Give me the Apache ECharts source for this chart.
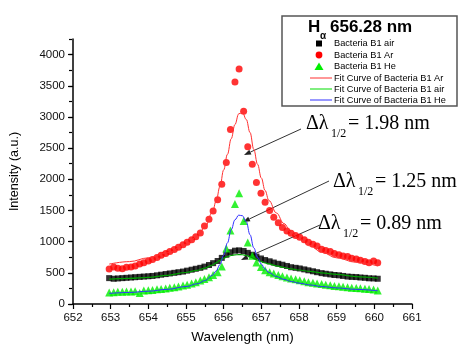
<!DOCTYPE html>
<html>
<head>
<meta charset="utf-8">
<script src="https://cdn.jsdelivr.net/npm/echarts@6/dist/echarts.min.js"></script>
<style>
  html, body { margin: 0; padding: 0; background: #fff; }
  #main { width: 474px; height: 353px; }
</style>
</head>
<body>
<div id="main"></div>
<script>
// measured points (nm)
const wavelength = [
  652.96, 653.08, 653.19, 653.31, 653.42, 653.54, 653.65, 653.77, 653.88,
  654.00, 654.11, 654.23, 654.34, 654.46, 654.57, 654.69, 654.80, 654.92,
  655.03, 655.15, 655.26, 655.38, 655.49, 655.61, 655.72, 655.84, 655.95,
  656.07, 656.18, 656.30, 656.41, 656.53, 656.64, 656.76, 656.87, 656.99,
  657.10, 657.22, 657.33, 657.45, 657.56, 657.68, 657.79, 657.91, 658.02,
  658.14, 658.25, 658.37, 658.48, 658.60, 658.71, 658.83, 658.94, 659.06,
  659.17, 659.29, 659.40, 659.52, 659.63, 659.75, 659.86, 659.98, 660.09
];
const airData = [
  415, 405, 410, 415, 420, 425, 430, 435, 440,
  445, 450, 460, 470, 480, 490, 500, 510, 520,
  535, 550, 565, 580, 600, 625, 655, 690, 740,
  790, 830, 855, 860, 850, 820, 790, 760, 730,
  705, 685, 665, 645, 630, 610, 590, 580, 570,
  555, 540, 525, 510, 495, 485, 475, 465, 460,
  450, 440, 435, 432, 425, 420, 412, 410, 405
];
const arData = [
  560, 592, 575, 565, 590, 595, 610, 640, 660,
  690, 715, 745, 780, 810, 840, 875, 910, 950,
  990, 1030, 1080, 1140, 1250, 1360, 1490, 1670, 1920,
  2270, 2800, 3560, 3770, 3090, 2520, 2240, 1950, 1775,
  1630, 1500, 1390, 1305, 1225, 1170, 1135, 1100, 1070,
  1030, 990, 960, 930, 880, 860, 840, 810, 790,
  770, 760, 735, 720, 700, 680, 660, 690, 660
];
const heData = [
  185, 190, 195, 195, 200, 200, 205, 175, 215,
  220, 225, 235, 240, 250, 260, 270, 280, 295,
  310, 330, 350, 375, 400, 430, 465, 510, 600,
  890, 1180, 1605, 1776, 1330, 986, 773, 666, 592,
  540, 510, 490, 465, 445, 425, 410, 395, 380,
  365, 350, 340, 330, 320, 310, 300, 290, 285,
  275, 270, 262, 258, 252, 245, 240, 232, 215
];

// fit curves
const fitX = [
  652.96, 653.5, 654.0, 654.5, 655.0, 655.3, 655.5, 655.7, 655.8, 655.9, 656.0,
  656.1, 656.2, 656.3, 656.4, 656.5, 656.6, 656.7, 656.8, 656.9, 657.0, 657.1,
  657.2, 657.4, 657.6, 657.8, 658.0, 658.3, 658.6, 659.0, 659.5, 660.09
];
const fitAr = [
  640, 680, 740, 820, 950, 1080, 1230, 1470, 1650, 1880, 2150,
  2400, 2650, 2880, 3050, 3070, 2960, 2750, 2480, 2240, 2020, 1820,
  1660, 1460, 1290, 1140, 1040, 930, 830, 740, 670, 610
];
const fitAir = [
  400, 412, 428, 460, 505, 540, 575, 625, 660, 700, 735,
  760, 778, 788, 792, 790, 778, 758, 732, 705, 680, 660,
  642, 612, 585, 562, 545, 522, 500, 476, 440, 415
];
const fitHe = [
  170, 185, 205, 235, 280, 325, 375, 460, 530, 630, 780,
  980, 1190, 1350, 1425, 1415, 1320, 1110, 900, 750, 640, 560,
  505, 440, 395, 360, 335, 305, 280, 258, 235, 212
];

const yTicks = [0, 500, 1000, 1500, 2000, 2500, 3000, 3500, 4000];

const legendItems = [
  'Bacteria B1 air', 'Bacteria B1 Ar', 'Bacteria B1 He',
  'Fit Curve of Bacteria B1 Ar', 'Fit Curve of Bacteria B1 air', 'Fit Curve of Bacteria B1 He'
];

const sans = '"Liberation Sans", Arial, sans-serif';
const serif = '"Liberation Serif", "Times New Roman", serif';

function pairs(xs, ys) {
  return xs.map(function (x, i) { return [x, ys[i]]; });
}

function arrow(x1, y1, x2, y2) {
  var dx = x2 - x1, dy = y2 - y1, len = Math.hypot(dx, dy);
  var ux = dx / len, uy = dy / len, hl = 7, hw = 2.6;
  var bx = x2 - ux * hl, by = y2 - uy * hl;
  return [
    { type: 'line', shape: { x1: x1, y1: y1, x2: bx, y2: by }, style: { stroke: '#333', lineWidth: 1 } },
    { type: 'polygon', shape: { points: [[x2, y2], [bx - uy * hw, by + ux * hw], [bx + uy * hw, by - ux * hw]] }, style: { fill: '#222' } }
  ];
}

function label(x, y, value) {
  return [
    { type: 'text', x: x, y: y, style: { text: 'Δλ', font: '20px ' + serif, fill: '#000', verticalAlign: 'middle' } },
    { type: 'text', x: x + 25, y: y + 10, style: { text: '1/2', font: '12px ' + serif, fill: '#000', verticalAlign: 'middle' } },
    { type: 'text', x: x + 42, y: y, style: { text: '= ' + value + ' nm', font: '20px ' + serif, fill: '#000', verticalAlign: 'middle' } }
  ];
}

var graphics = [];
// legend box
graphics.push({ type: 'rect', shape: { x: 282, y: 16, width: 175, height: 90 }, style: { fill: '#fff', stroke: '#555', lineWidth: 1.5 }, z: 10 });
graphics.push({ type: 'text', x: 308, y: 27, z: 11, style: { text: 'H', font: 'bold 17px ' + sans, fill: '#000', verticalAlign: 'middle' } });
graphics.push({ type: 'text', x: 320, y: 36, z: 11, style: { text: 'α', font: 'bold 10px ' + sans, fill: '#000', verticalAlign: 'middle' } });
graphics.push({ type: 'text', x: 330, y: 27, z: 11, style: { text: '656.28 nm', font: 'bold 17px ' + sans, fill: '#000', verticalAlign: 'middle' } });
var rowY = [43.5, 55, 66.5, 78, 89, 100];
graphics.push({ type: 'rect', z: 11, shape: { x: 316, y: rowY[0] - 3, width: 6, height: 6 }, style: { fill: '#000' } });
graphics.push({ type: 'circle', z: 11, shape: { cx: 319, cy: rowY[1], r: 3.4 }, style: { fill: '#ff0000' } });
graphics.push({ type: 'polygon', z: 11, shape: { points: [[319, rowY[2] - 4], [323.5, rowY[2] + 3.5], [314.5, rowY[2] + 3.5]] }, style: { fill: '#00ee00' } });
graphics.push({ type: 'line', z: 11, shape: { x1: 310, y1: rowY[3], x2: 332, y2: rowY[3] }, style: { stroke: '#ff3030', lineWidth: 1 } });
graphics.push({ type: 'line', z: 11, shape: { x1: 310, y1: rowY[4], x2: 332, y2: rowY[4] }, style: { stroke: '#00dd00', lineWidth: 1 } });
graphics.push({ type: 'line', z: 11, shape: { x1: 310, y1: rowY[5], x2: 332, y2: rowY[5] }, style: { stroke: '#3030ff', lineWidth: 1 } });
legendItems.forEach(function (t, i) {
  graphics.push({ type: 'text', z: 11, x: 334, y: rowY[i], style: { text: t, font: '9.2px ' + sans, fill: '#000', verticalAlign: 'middle' } });
});
// annotations
graphics = graphics.concat(
  label(306, 124, '1.98'), arrow(301, 129, 244, 155),
  label(333, 182, '1.25'), arrow(329, 181, 243, 222),
  label(318, 224, '0.89'), arrow(320, 225, 241, 260)
);

const chart = echarts.init(document.getElementById('main'));

var gridBox = { left: 72, right: 62, top: 39, bottom: 49 };

chart.setOption({
  backgroundColor: '#ffffff',
  animation: false,
  grid: [gridBox, gridBox],
  xAxis: [{
    type: 'value', min: 652, max: 661, interval: 1, gridIndex: 0,
    name: 'Wavelength (nm)', nameLocation: 'middle', nameGap: 26,
    nameTextStyle: { fontFamily: sans, fontSize: 13.5, color: '#000' },
    axisLine: { lineStyle: { color: '#000', width: 1.5 } },
    axisTick: { length: 5, lineStyle: { color: '#000', width: 1.2 } },
    minorTick: { show: true, splitNumber: 2, length: 3, lineStyle: { color: '#000', width: 1.2 } },
    axisLabel: { fontFamily: sans, fontSize: 11.5, color: '#111', margin: 8 },
    splitLine: { show: false }
  }, {
    type: 'value', min: 652, max: 661, gridIndex: 1, show: false
  }],
  yAxis: [{
    type: 'value', min: 0, max: 4250, interval: 500, gridIndex: 0,
    name: 'Intensity (a.u.)', nameLocation: 'middle', nameGap: 52,
    nameTextStyle: { fontFamily: sans, fontSize: 12.5, color: '#000' },
    axisLine: { show: true, lineStyle: { color: '#000', width: 1.5 } },
    axisTick: { show: true, length: 5, customValues: yTicks, lineStyle: { color: '#000', width: 1.2 } },
    axisLabel: {
      fontFamily: sans, fontSize: 11.5, color: '#111', margin: 8, customValues: yTicks,
      formatter: function (v) { return String(v); }
    },
    splitLine: { show: false }
  }, {
    // short ticks every 250
    type: 'value', min: 0, max: 4250, interval: 250, gridIndex: 1, position: 'left',
    axisLine: { show: false },
    axisTick: { show: true, length: 3, lineStyle: { color: '#000', width: 1.2 } },
    axisLabel: { show: false },
    splitLine: { show: false }
  }],
  series: [
    { name: 'Bacteria B1 air', type: 'scatter', symbol: 'rect', symbolSize: 6,
      itemStyle: { color: '#000' }, data: pairs(wavelength, airData) },
    { name: 'Bacteria B1 Ar', type: 'scatter', symbol: 'circle', symbolSize: 7,
      itemStyle: { color: '#ff0000' }, data: pairs(wavelength, arData) },
    { name: 'Bacteria B1 He', type: 'scatter', symbol: 'triangle', symbolSize: 8,
      itemStyle: { color: '#00ee00' }, data: pairs(wavelength, heData) },
    { name: 'Fit Curve of Bacteria B1 Ar', type: 'line', showSymbol: false, smooth: 0.4, smoothMonotone: 'x',
      lineStyle: { color: '#ff3030', width: 1 }, data: pairs(fitX, fitAr) },
    { name: 'Fit Curve of Bacteria B1 air', type: 'line', showSymbol: false, smooth: 0.4, smoothMonotone: 'x',
      lineStyle: { color: '#00a000', width: 1.2 }, data: pairs(fitX, fitAir) },
    { name: 'Fit Curve of Bacteria B1 He', type: 'line', showSymbol: false, smooth: 0.4, smoothMonotone: 'x',
      lineStyle: { color: '#3030ff', width: 1 }, data: pairs(fitX, fitHe) }
  ],
  graphic: graphics
});
</script>
</body>
</html>
